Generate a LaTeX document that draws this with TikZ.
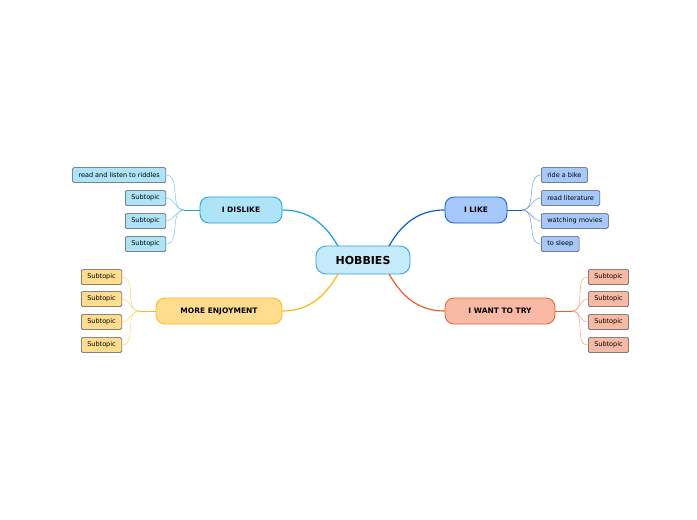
\documentclass[tikz,border=0pt]{standalone}
\usepackage{fontspec}
\setmainfont{DejaVu Sans}
\begin{document}
\begin{tikzpicture}[x=1pt,y=-1pt,
 main/.style={draw=#1,line width=0.8pt,rounded corners=9pt,minimum height=26pt,font=\bfseries\fontsize{7.5}{9}\selectfont,inner xsep=10pt},
 leaf/.style={draw=black!70,line width=0.5pt,rounded corners=1.5pt,minimum height=15pt,font=\fontsize{6.5}{7.5}\selectfont,inner xsep=6pt,fill=#1},
 thin/.style={draw=#1,line width=0.4pt}]
\useasboundingbox (0,0) rectangle (697,520);
\definecolor{cA}{HTML}{2FA0DC}\definecolor{fA}{HTML}{C5EBFA}
\definecolor{cL}{HTML}{0A5BD8}\definecolor{fL}{HTML}{A7C8FA}
\definecolor{cW}{HTML}{F05B2A}\definecolor{fW}{HTML}{F8B9A5}
\definecolor{cD}{HTML}{1AA0E0}\definecolor{fD}{HTML}{AEE3F8}
\definecolor{cE}{HTML}{FDB813}\definecolor{fE}{HTML}{FFDC8E}
\node[main=cA,fill=fA,minimum width=94pt,minimum height=28pt,font=\bfseries\fontsize{11}{13}\selectfont,rounded corners=10pt] (h) at (363,260) {HOBBIES};
\node[main=cL,fill=fL,minimum width=62pt] (l) at (476,210) {I LIKE};
\node[main=cW,fill=fW,minimum width=110pt] (w) at (500,311) {I WANT TO TRY};
\node[main=cD,fill=fD,minimum width=82pt] (d) at (241,210) {I DISLIKE};
\node[main=cE,fill=fE,minimum width=126pt] (e) at (219,311) {MORE ENJOYMENT};
\coordinate (hl) at (389,246);\coordinate (hw) at (389,274);
\coordinate (hd) at (338,246);\coordinate (he) at (338,274);
\draw[cL,line width=1.2pt] (hl) to[out=60,in=180] (l.west);
\draw[cW,line width=1.2pt] (hw) to[out=-60,in=180] (w.west);
\draw[cD,line width=1.2pt] (hd) to[out=120,in=0] (d.east);
\draw[cE,line width=1.2pt] (he) to[out=-120,in=0] (e.east);
\foreach \t/\y [count=\i] in {ride a bike/175,read literature/198,watching movies/221,to sleep/244}
 \node[leaf=fL,anchor=west] (l\i) at (541,\y) {\t};
\coordinate (fl) at (522,210);
\draw[cL,line width=0.8pt] (l.east) -- (fl);
\foreach \i in {1,...,4} \draw[thin=cL!70] (fl) to[out=0,in=180] (l\i.west);
\foreach \y [count=\i] in {277,299,322,345}
 \node[leaf=fW,anchor=west] (w\i) at (588,\y) {Subtopic};
\coordinate (fw) at (572,311);
\draw[cW,line width=0.8pt] (w.east) -- (fw);
\foreach \i in {1,...,4} \draw[thin=cW!70] (fw) to[out=0,in=180] (w\i.west);
\foreach \t/\y [count=\i] in {read and listen to riddles/175,Subtopic/198,Subtopic/221,Subtopic/244}
 \node[leaf=fD,anchor=east] (d\i) at (166,\y) {\t};
\coordinate (fd) at (184,210);
\draw[cD,line width=0.8pt] (d.west) -- (fd);
\foreach \i in {1,...,4} \draw[thin=cD!70] (fd) to[out=180,in=0] (d\i.east);
\foreach \y [count=\i] in {277,299,322,345}
 \node[leaf=fE,anchor=east] (e\i) at (122,\y) {Subtopic};
\coordinate (fe) at (139,311);
\draw[cE,line width=0.8pt] (e.west) -- (fe);
\foreach \i in {1,...,4} \draw[thin=cE!70] (fe) to[out=180,in=0] (e\i.east);
\end{tikzpicture}
\end{document}
